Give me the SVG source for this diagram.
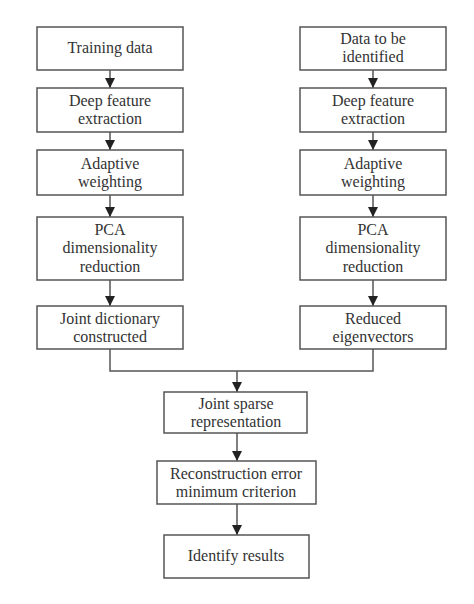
<svg xmlns="http://www.w3.org/2000/svg" width="474" height="604" viewBox="0 0 474 604">
<style>
.box{fill:#fff;stroke:#555;stroke-width:1.5}
.lbl{font-family:"Liberation Serif","Times New Roman",serif;font-size:16px;fill:#333;text-anchor:middle}
.con{fill:none;stroke:#555;stroke-width:1.5}
</style>
<defs>
<marker id="ah" markerWidth="10" markerHeight="10" viewBox="0 0 10 10" refX="10" refY="5" orient="auto" markerUnits="userSpaceOnUse">
<path d="M0,0 L10,5 L0,10 Z" fill="#222"/>
</marker>
</defs>
<rect width="474" height="604" fill="#fff"/>
<g id="connectors">
<line class="con" x1="110" y1="70" x2="110" y2="88" marker-end="url(#ah)"/>
<line class="con" x1="110" y1="132" x2="110" y2="150" marker-end="url(#ah)"/>
<line class="con" x1="110" y1="195" x2="110" y2="217" marker-end="url(#ah)"/>
<line class="con" x1="110" y1="280" x2="110" y2="306" marker-end="url(#ah)"/>
<line class="con" x1="373" y1="70" x2="373" y2="88" marker-end="url(#ah)"/>
<line class="con" x1="373" y1="132" x2="373" y2="150" marker-end="url(#ah)"/>
<line class="con" x1="373" y1="195" x2="373" y2="217" marker-end="url(#ah)"/>
<line class="con" x1="373" y1="280" x2="373" y2="306" marker-end="url(#ah)"/>
<polyline class="con" points="110,349 110,371 373,371 373,349"/>
<line class="con" x1="237" y1="371" x2="237" y2="392" marker-end="url(#ah)"/>
<line class="con" x1="237" y1="433" x2="237" y2="461" marker-end="url(#ah)"/>
<line class="con" x1="237" y1="504" x2="237" y2="535" marker-end="url(#ah)"/>
</g>
<g id="n1"><rect class="box" x="37" y="27" width="146" height="43"/><text class="lbl" x="110" y="53">Training data</text></g>
<g id="n2"><rect class="box" x="37" y="88" width="146" height="44"/><text class="lbl" x="110" y="106">Deep feature</text><text class="lbl" x="110" y="124">extraction</text></g>
<g id="n3"><rect class="box" x="37" y="150" width="146" height="45"/><text class="lbl" x="110" y="169">Adaptive</text><text class="lbl" x="110" y="187">weighting</text></g>
<g id="n4"><rect class="box" x="37" y="217" width="146" height="63"/><text class="lbl" x="110" y="235">PCA</text><text class="lbl" x="110" y="253">dimensionality</text><text class="lbl" x="110" y="272">reduction</text></g>
<g id="n5"><rect class="box" x="37" y="306" width="146" height="43"/><text class="lbl" x="110" y="324">Joint dictionary</text><text class="lbl" x="110" y="342">constructed</text></g>
<g id="m1"><rect class="box" x="300" y="27" width="146" height="43"/><text class="lbl" x="373" y="44">Data to be</text><text class="lbl" x="373" y="62">identified</text></g>
<g id="m2"><rect class="box" x="300" y="88" width="146" height="44"/><text class="lbl" x="373" y="106">Deep feature</text><text class="lbl" x="373" y="124">extraction</text></g>
<g id="m3"><rect class="box" x="300" y="150" width="146" height="45"/><text class="lbl" x="373" y="169">Adaptive</text><text class="lbl" x="373" y="187">weighting</text></g>
<g id="m4"><rect class="box" x="300" y="217" width="146" height="63"/><text class="lbl" x="373" y="235">PCA</text><text class="lbl" x="373" y="253">dimensionality</text><text class="lbl" x="373" y="272">reduction</text></g>
<g id="m5"><rect class="box" x="300" y="306" width="146" height="43"/><text class="lbl" x="373" y="324">Reduced</text><text class="lbl" x="373" y="342">eigenvectors</text></g>
<g id="j1"><rect class="box" x="164" y="392" width="143" height="41"/><text class="lbl" x="236" y="409">Joint sparse</text><text class="lbl" x="236" y="427">representation</text></g>
<g id="j2"><rect class="box" x="157" y="461" width="159" height="43"/><text class="lbl" x="236" y="479">Reconstruction error</text><text class="lbl" x="236" y="497">minimum criterion</text></g>
<g id="j3"><rect class="box" x="164" y="535" width="145" height="43"/><text class="lbl" x="236" y="561">Identify results</text></g>
</svg>
